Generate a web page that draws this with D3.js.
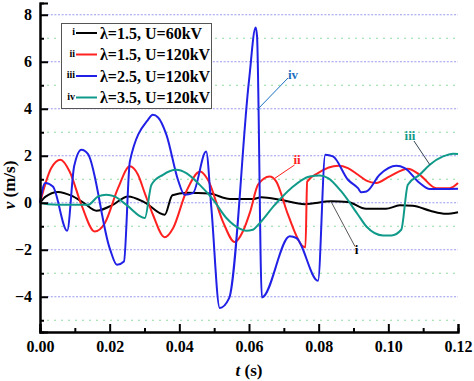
<!DOCTYPE html>
<html>
<head>
<meta charset="utf-8">
<script src="https://cdn.jsdelivr.net/npm/d3@7"></script>
<style>
body { margin:0; background:#fff; }
svg text { font-family:"Liberation Serif","Times New Roman",serif; font-weight:bold; }
</style>
</head>
<body>
<div id="chart_container"></div>
<script>
// t (s), v (m/s)
var series_i = [[0,0],[0.0015,0.25],[0.0052,0.46],[0.009,0.3],[0.0125,0.0],[0.0162,-0.34],[0.0205,-0.12],
	[0.0253,0.27],[0.03,0.02],[0.0358,-0.51],[0.038,0.32],[0.042,0.43],[0.0487,0.39],[0.0545,0.16],[0.061,0.16],
	[0.0635,0.23],[0.069,0.13],[0.076,-0.06],[0.0836,0.06],[0.0884,0.03],[0.0936,-0.26],[0.0993,-0.26],
	[0.1033,-0.11],[0.107,-0.13],[0.112,-0.34],[0.1166,-0.47],[0.12,-0.4]];
var series_ii = [[0,0],[0.0032,1.47],[0.0059,1.83],[0.0085,1.33],[0.0119,-0.09],[0.0157,-1.22],[0.0186,-0.87],
	[0.0224,0.62],[0.0258,1.55],[0.0281,1.2],[0.0301,0.4],[0.0324,-0.5],[0.0358,-1.47],[0.0382,-1.08],[0.042,0.48],
	[0.046,1.33],[0.0482,0.98],[0.0525,-0.8],[0.0559,-1.67],[0.0583,-1.2],[0.0603,-0.4],[0.0626,0.77],[0.0659,1.12],
	[0.0678,0.91],[0.0712,-0.51],[0.0755,-1.86],[0.0762,-1.9],[0.0767,0.9],[0.0798,1.26],[0.0856,1.57],[0.0884,1.47],
	[0.0913,1.19],[0.0937,0.94],[0.0965,0.84],[0.1004,1.12],[0.1056,1.45],[0.109,1.19],[0.1138,0.62],[0.1176,0.62],
	[0.12,0.84]];
var series_iii = [[0,0],[0.0015,0.84],[0.0037,0.69],[0.0078,-1.19],[0.0098,1.55],[0.0119,2.26],[0.0138,2.07],
	[0.02,-1.93],[0.0221,-2.64],[0.0241,-2.5],[0.0258,1.76],[0.031,3.53],[0.0324,3.74],[0.0339,3.63],[0.0363,2.89],
	[0.0396,0.98],[0.0415,0.34],[0.0439,0.41],[0.0477,2.18],[0.0492,-0.23],[0.0516,-4.48],[0.0543,-4.06],[0.06,5.2],
	[0.0619,7.46],[0.0623,7.1],[0.0637,-4.03],[0.0717,-1.43],[0.0736,-1.5],[0.0798,-3.32],[0.0819,2.04],[0.0841,1.97],
	[0.0884,0.98],[0.0913,0.62],[0.0922,0.45],[0.0937,0.48],[0.0975,1.19],[0.1023,1.57],[0.1047,1.47],[0.109,0.84],
	[0.1119,0.58],[0.12,0.6]];
var series_iv = [[0,0],[0.0023,-0.06],[0.008,-0.09],[0.0138,-0.09],[0.0167,0.27],[0.019,0.34],[0.0214,0.27],
	[0.0248,-0.09],[0.0301,-0.65],[0.032,0.77],[0.0353,1.19],[0.0391,1.4],[0.042,1.26],[0.0458,0.77],[0.0497,0.13],
	[0.0535,-0.65],[0.0573,-1.1],[0.0592,-1.19],[0.0611,-1.15],[0.0626,-0.94],[0.0674,-0.09],[0.0721,0.62],
	[0.0774,1.12],[0.0803,1.16],[0.0827,1.05],[0.0865,0.48],[0.0913,-0.51],[0.0937,-1.01],[0.0985,-1.39],
	[0.1009,-1.39],[0.1037,-1.15],[0.1056,0.77],[0.109,1.19],[0.1119,1.62],[0.1157,1.97],[0.1186,2.09],[0.12,2.07]];

var legend_labels = ["λ=1.5, U=60kV", "λ=1.5, U=120kV", "λ=2.5, U=120kV", "λ=3.5, U=120kV"];
var roman = ["i", "ii", "iii", "iv"];
var x_ticks = [0, 0.02, 0.04, 0.06, 0.08, 0.10, 0.12];
var y_ticks = [-4, -2, 0, 2, 4, 6, 8];
var y_minor = [-5, -3, -1, 1, 3, 5, 7];

var colors = ["#000000", "#ff2020", "#2020e6", "#109a8a"];
var width = 474, height = 381;

var svgContainer = d3.select("#chart_container").append("svg")
	.attr("width", width).attr("height", height);

var x = d3.scaleLinear().domain([0, 0.12]).range([40, 458]);
var y = d3.scaleLinear().domain([-5.5, 8.5]).range([332, 3]);

// grid lines: blue at even values, green at odd values
y_ticks.forEach(function(v){
	svgContainer.append("line")
		.attr("x1", x(0)).attr("x2", x(0.12)).attr("y1", y(v)).attr("y2", y(v))
		.attr("stroke", "#9a9af0").attr("stroke-width", 1.2).attr("stroke-dasharray", "2,1.6");
});
y_minor.forEach(function(v){
	svgContainer.append("line")
		.attr("x1", x(0)).attr("x2", x(0.12)).attr("y1", y(v)).attr("y2", y(v))
		.attr("stroke", "#8fdca0").attr("stroke-width", 1.2).attr("stroke-dasharray", "2,5");
});

// series
var line = d3.line().x(function(d){ return x(d[0]); }).y(function(d){ return y(d[1]); })
	.curve(d3.curveMonotoneX);
var all_series = [series_i, series_ii, series_iii, series_iv];
for(i = 0; i < all_series.length; i++){
	svgContainer.append("path")
		.attr("d", line(all_series[i]))
		.attr("fill", "none")
		.attr("stroke", colors[i])
		.attr("stroke-width", 2)
		.attr("stroke-linejoin", "round");
}

// axes, ticks point inward
var xAxis = svgContainer.append("g").attr("transform", "translate(0," + y(-5.5) + ")")
	.call(d3.axisBottom(x).tickValues(x_ticks).tickSize(-8).tickPadding(9)
		.tickFormat(d3.format(".2f")));
var xMinor = svgContainer.append("g").attr("transform", "translate(0," + y(-5.5) + ")")
	.call(d3.axisBottom(x).tickValues([0.01, 0.03, 0.05, 0.07, 0.09, 0.11]).tickSize(-4).tickFormat(""));
var yAxis = svgContainer.append("g").attr("transform", "translate(" + x(0) + ",0)")
	.call(d3.axisLeft(y).tickValues(y_ticks).tickSize(-8).tickPadding(8));
var yMinor = svgContainer.append("g").attr("transform", "translate(" + x(0) + ",0)")
	.call(d3.axisLeft(y).tickValues(y_minor).tickSize(-4).tickFormat(""));

[xAxis, xMinor, yAxis, yMinor].forEach(function(g){
	g.select(".domain").attr("stroke", "#000").attr("stroke-width", 2);
	g.selectAll(".tick line").attr("stroke", "#000").attr("stroke-width", 2);
	g.selectAll(".tick text").attr("font-size", 16).attr("fill", "#000")
		.attr("font-family", "Liberation Serif, Times New Roman, serif").attr("font-weight", "bold");
});

// axis titles
var xt = svgContainer.append("text").attr("x", 249).attr("y", 376).attr("text-anchor", "middle")
	.attr("font-size", 17);
xt.append("tspan").attr("font-style", "italic").text("t");
xt.append("tspan").text(" (s)");
var yt = svgContainer.append("text").attr("transform", "translate(15,185) rotate(-90)")
	.attr("text-anchor", "middle").attr("font-size", 17);
yt.append("tspan").attr("font-style", "italic").text("v");
yt.append("tspan").text(" (m/s)");

// legend
svgContainer.append("rect").attr("x", 61.5).attr("y", 23.5).attr("width", 150).attr("height", 85)
	.attr("fill", "#fff").attr("stroke", "#555").attr("stroke-width", 1);
var row_y = [33, 54.5, 76, 97.5];
for(i = 0; i < 4; i++){
	svgContainer.append("text").attr("x", 75).attr("y", row_y[i] + 2).attr("text-anchor", "end")
		.attr("font-size", 10).text(roman[i]);
	svgContainer.append("line").attr("x1", 76).attr("x2", 97).attr("y1", row_y[i]).attr("y2", row_y[i])
		.attr("stroke", colors[i]).attr("stroke-width", 2);
	svgContainer.append("text").attr("x", 100).attr("y", row_y[i] + 5.5).attr("font-size", 16)
		.text(legend_labels[i]);
}

// curve labels with leader lines
function addLabel(txt, tx, ty, x1, y1, x2, y2, col, lineCol){
	svgContainer.append("line").attr("x1", x1).attr("y1", y1).attr("x2", x2).attr("y2", y2)
		.attr("stroke", lineCol).attr("stroke-width", 1);
	svgContainer.append("text").attr("x", tx).attr("y", ty).attr("text-anchor", "middle")
		.attr("font-size", 13).attr("fill", col).text(txt);
}
addLabel("iv", 293, 79, 288, 78, 257, 110, "#1a6fc0", "#1a6fc0");
addLabel("ii", 297, 164, 294.5, 165, 274.5, 178.5, "#ff2020", "#ff2020");
addLabel("iii", 410, 140, 414, 141, 430, 165, "#109a8a", "#334455");
addLabel("i", 356.5, 254, 355, 246.5, 331, 201.5, "#000", "#555");
</script>
</body>
</html>
